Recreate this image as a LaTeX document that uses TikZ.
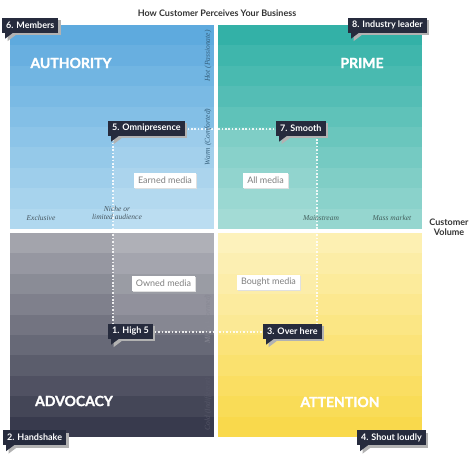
\documentclass[tikz,border=0pt]{standalone}
\usepackage{fontspec}
\setmainfont{Lato}
\newfontfamily\heavyfont{Lato}[BoldFeatures={FakeBold=1.6}]
\newfontfamily\labelfont{Liberation Serif}
\usetikzlibrary{shadows}
\definecolor{navy}{HTML}{262B3D}
\definecolor{tlTop}{HTML}{5EAADE}
\definecolor{tlBot}{HTML}{B0D8EF}
\definecolor{trTop}{HTML}{33B1A7}
\definecolor{trBot}{HTML}{95D6CF}
\definecolor{blTop}{HTML}{A3A4AC}
\definecolor{blBot}{HTML}{383A4D}
\definecolor{brTop}{HTML}{FDF0B2}
\definecolor{brBot}{HTML}{F9D94C}
\definecolor{titlegray}{HTML}{333333}
\begin{document}
\begin{tikzpicture}[
        x=1pt, y=-1pt,
        line cap=round,
        every node/.style={font=\small},
        callout/.style={fill=navy, text=white, anchor=west,
            font=\fontsize{9}{10}\selectfont\bfseries,
            inner xsep=4pt, inner ysep=0pt, minimum height=15pt,
            general shadow={fill=black!30, shadow xshift=2.5pt, shadow yshift=-2.5pt}},
        medialabel/.style={fill=white, text=black!50,
            font=\fontsize{9}{10}\selectfont,
            inner xsep=4pt, inner ysep=0pt, minimum height=15pt,
            general shadow={fill=black!12, shadow xshift=1pt, shadow yshift=-1pt}},
        quadname/.style={text=white, font=\heavyfont\fontsize{14}{16}\selectfont\bfseries},
        axislabel/.style={font=\labelfont\itshape\fontsize{7.5}{8.5}\selectfont, align=center},
        sidelabel/.style={axislabel, rotate=90}
    ]
    \useasboundingbox (0,0) rectangle (474,474);
    % Quadrants, filled in bands
    \foreach \qx/\qy/\ctop/\cbot in {10/25/tlTop/tlBot, 218/25/trTop/trBot,
        10/233/blTop/blBot, 218/233/brTop/brBot}{
        \foreach \i in {0,...,9}{
            \pgfmathtruncatemacro\pct{100-\i*100/9}
            \fill[\ctop!\pct!\cbot] (\qx,\qy+\i*20.4) rectangle ++(204,20.7);
        }
    }
    % Inner square, a little lighter
    \fill[white, opacity=0.14] (113,129) rectangle (317,332);
    \fill[white] (214,25) rectangle (218,437);
    \fill[white] (10,229) rectangle (422,233);
    \draw[white, opacity=0.85, line width=1.6pt, line cap=butt,
        dash pattern=on 1.6pt off 1.8pt] (113,129) rectangle (317,332);
    % Title and axis
    \node[font=\fontsize{9}{10}\selectfont\bfseries, text=titlegray] (title) at (217,13)
        {How Customer Perceives Your Business};
    \node[font=\fontsize{9}{10.5}\selectfont\bfseries, text=titlegray, align=center] (volume)
        at (449,227) {Customer\\Volume};
    % Quadrant names
    \node[quadname] (authority) at (71,63) {AUTHORITY};
    \node[quadname] (prime) at (362,63) {PRIME};
    \node[quadname] (advocacy) at (74,401) {ADVOCACY};
    \node[quadname] (attention) at (340,402) {ATTENTION};
    % Audience labels
    \node[axislabel, text=black!60!tlBot] (exclusive) at (41,218) {Exclusive};
    \node[axislabel, text=black!60!tlBot, font=\labelfont\itshape\fontsize{7.5}{8}\selectfont]
        (niche) at (117,213) {Niche or\\limited audience};
    \node[axislabel, text=black!55!trBot] (mainstream) at (321,218) {Mainstream};
    \node[axislabel, text=black!55!trBot] (massmarket) at (392,218) {Mass market};
    % Temperature labels
    \node[sidelabel, text=black!45!tlTop] (hot) at (208,56) {Hot (Passionate)};
    \node[sidelabel, text=black!45!tlTop] (warm) at (208,137) {Warm (Comforted)};
    \node[sidelabel, text=blTop!75!blBot] (mild) at (208,319) {Mild (Informed)};
    \node[sidelabel, text=blBot!85!white] (cold) at (208,404) {Cold (Indifferent)};
    % Media
    \node[medialabel] (earned) at (165,180) {Earned media};
    \node[medialabel] (allmedia) at (265.5,180) {All media};
    \node[medialabel] (owned) at (163.5,283) {Owned media};
    \node[medialabel] (bought) at (268.5,282) {Bought media};
    % Callouts
    \node[callout] (members) at (2,25) {6. Members};
    \node[callout] (industry) at (348,25) {8. Industry leader};
    \node[callout] (omni) at (108,128) {5. Omnipresence};
    \node[callout] (smooth) at (276,128) {7. Smooth};
    \node[callout] (highfive) at (108,331) {1. High 5};
    \node[callout] (overhere) at (263,331) {3. Over here};
    \node[callout] (handshake) at (3,437.5) {2. Handshake};
    \node[callout] (shout) at (357,437.5) {4. Shout loudly};
    \foreach \c in {members,industry,omni,smooth,highfive,overhere,handshake,shout}{
        \fill[black!30] ([xshift=5.5pt,yshift=-2.5pt]\c.south west) -- ++(0,6) -- ++(8,-6) -- cycle;
        \fill[navy] ([xshift=3pt]\c.south west) -- ++(0,6) -- ++(8,-6) -- cycle;
    }
\end{tikzpicture}
\end{document}
